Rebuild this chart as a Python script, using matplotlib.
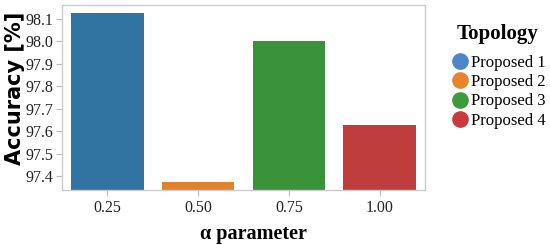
import numpy as np
import matplotlib
matplotlib.use('Agg')
import matplotlib.pyplot as plt
from matplotlib.lines import Line2D

alphas = ['0.25', '0.50', '0.75', '1.00']
accuracy = [98.127, 97.373, 98.003, 97.627]
topologies = ['Proposed 1', 'Proposed 2', 'Proposed 3', 'Proposed 4']
bar_colors = ['#3274a1', '#e1812c', '#3a923a', '#c03d3e']
dot_colors = ['#4e86c8', '#e8832e', '#3d9a3d', '#c83a3e']

fig = plt.figure(figsize=(5.5, 2.45), dpi=100)
ax = fig.add_axes([62/550, 55/245, 363/550, 185/245])

x = np.arange(len(alphas))
ax.bar(x, accuracy, 0.8, color=bar_colors, bottom=0)

ax.set_xlim(-0.5, 3.5)
ax.set_ylim(97.3375, 98.1625)
ax.set_xticks(x)
ax.set_xticklabels(alphas)
ax.set_yticks(np.arange(97.4, 98.15, 0.1))
ax.set_yticklabels(['%.1f' % v for v in np.arange(97.4, 98.15, 0.1)])

for lab in ax.get_xticklabels() + ax.get_yticklabels():
    lab.set_family('Liberation Serif')
    lab.set_fontsize(11.5)
    lab.set_color('#222222')
ax.tick_params(axis='both', length=4, color='#bbbbbb', width=0.8, pad=3)
ax.tick_params(axis='y', pad=2)
for sp in ax.spines.values():
    sp.set_color('#cccccc')
    sp.set_linewidth(1.0)

ax.set_ylabel('Accuracy [%]', family='DejaVu Sans', fontweight='bold',
              fontsize=15)
ax.yaxis.set_label_coords((15 - 62)/363, (190 - 88)/185)
ax.set_xlabel('\u03b1 parameter', family='Liberation Serif', fontweight='bold',
              fontsize=14.5)
ax.xaxis.set_label_coords((253 - 62)/363, -(234 - 190)/185)
ax.xaxis.label.set_va('center')
ax.yaxis.label.set_va('center')

handles = [Line2D([0], [0], marker='o', linestyle='', markersize=11,
                  markerfacecolor=c, markeredgecolor=c) for c in dot_colors]
leg = fig.legend(handles, topologies, loc='upper left',
                 bbox_to_anchor=(443/550, 1 - 17/245), frameon=False,
                 prop={'family': 'Liberation Serif', 'size': 12},
                 handletextpad=0.1, labelspacing=0.2, handlelength=1.2,
                 borderaxespad=0)
leg.set_title('Topology', prop={'family': 'Liberation Serif', 'weight': 'bold',
                                'size': 15})
leg._legend_box.sep = 8

fig.savefig('out.png', dpi=100)
